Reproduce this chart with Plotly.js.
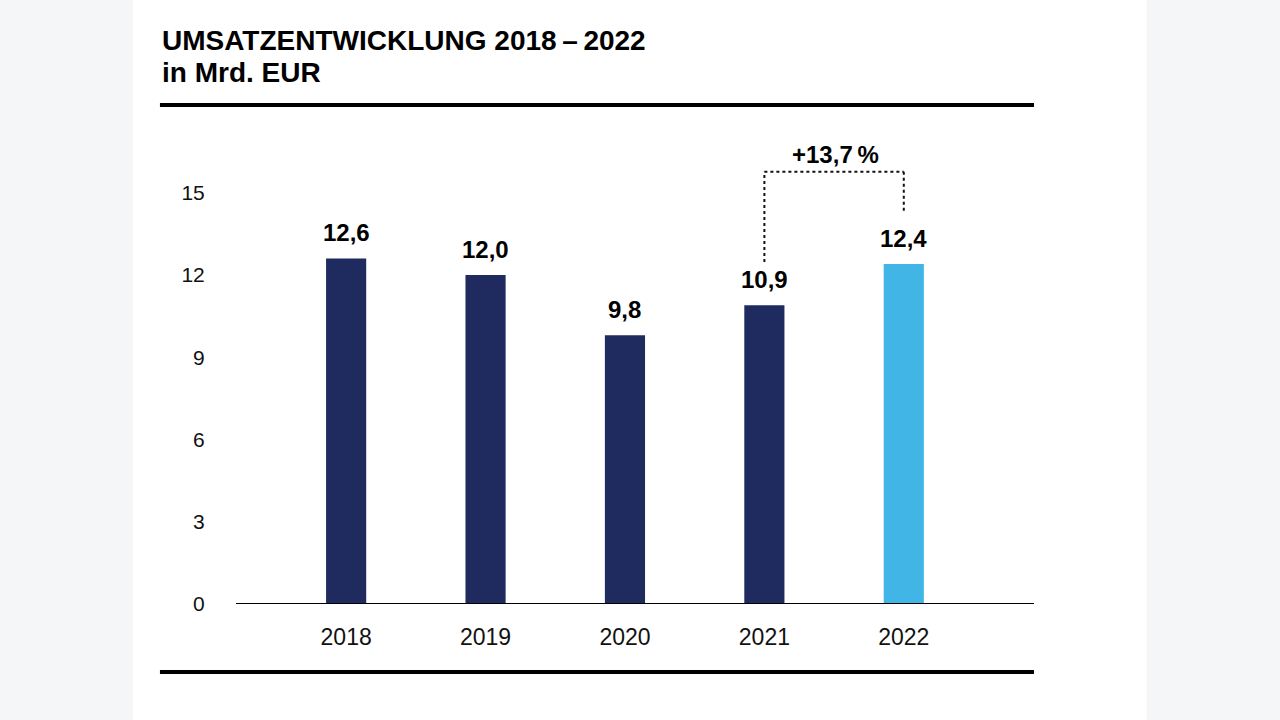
<!DOCTYPE html>
<html>
<head>
<meta charset="utf-8">
<script src="https://cdn.plot.ly/plotly-3.0.1.min.js"></script>
<style>
html,body{margin:0;padding:0;background:#f5f6f8;}
#chart{width:1280px;height:720px;}
</style>
</head>
<body>
<div id="chart"></div>
<script>
const years = ['2018', '2019', '2020', '2021', '2022'];
const revenue = [12.6, 12.0, 9.8, 10.9, 12.4];
const valueLabels = ['12,6', '12,0', '9,8', '10,9', '12,4'];
const barColors = ['#1f2a5e', '#1f2a5e', '#1f2a5e', '#1f2a5e', '#41b6e6'];
const yTicks = [0, 3, 6, 9, 12, 15];
const growthLabel = '+13,7\u2009%';
const titleLine1 = 'UMSATZENTWICKLUNG 2018\u2009\u2013\u20092022';
const titleLine2 = 'in Mrd. EUR';

const FONT = 'Liberation Sans, Arial, Helvetica, sans-serif';

const trace = {
  type: 'bar',
  x: years,
  y: revenue,
  width: 0.288,
  marker: {color: barColors},
  hoverinfo: 'skip'
};

const annotations = years.map((yr, i) => ({
  x: i, y: revenue[i], xref: 'x', yref: 'y',
  text: '<b>' + valueLabels[i] + '</b>',
  showarrow: false, xanchor: 'center', yanchor: 'middle', yshift: 26,
  font: {family: FONT, size: 24, color: '#000'}
}));

annotations.push({
  x: 3.51, y: 16.39, xref: 'x', yref: 'y',
  text: '<b>' + growthLabel + '</b>', showarrow: false,
  font: {family: FONT, size: 24, color: '#000'}
});
annotations.push({
  x: -0.0953, y: 1.209, xref: 'paper', yref: 'paper', xanchor: 'left', yanchor: 'middle',
  text: '<b>' + titleLine1 + '</b>', showarrow: false,
  font: {family: FONT, size: 28, color: '#000'}
});
annotations.push({
  x: -0.0953, y: 1.140, xref: 'paper', yref: 'paper', xanchor: 'left', yanchor: 'middle',
  text: '<b>' + titleLine2 + '</b>', showarrow: false,
  font: {family: FONT, size: 28, color: '#000'}
});

const dot = {color: '#111', width: 2, dash: 'dot'};
const shapes = [
  {type: 'rect', xref: 'paper', yref: 'paper', x0: -0.1292, x1: 1.1411, y0: -2, y1: 3,
   fillcolor: '#ffffff', line: {width: 0}, layer: 'below'},
  {type: 'line', xref: 'paper', yref: 'paper', x0: -0.0953, x1: 1.0, y0: 1.0708, y1: 1.0708,
   line: {color: '#000', width: 4}},
  {type: 'line', xref: 'paper', yref: 'paper', x0: -0.0953, x1: 1.0, y0: -0.1459, y1: -0.1459,
   line: {color: '#000', width: 4}},
  {type: 'line', xref: 'paper', yref: 'y', x0: 0, x1: 1, y0: 0, y1: 0,
   line: {color: '#000', width: 2}},
  {type: 'line', xref: 'x', yref: 'y', x0: 3, x1: 3, y0: 12.48, y1: 15.77, line: dot},
  {type: 'line', xref: 'x', yref: 'y', x0: 3, x1: 4, y0: 15.77, y1: 15.77, line: dot},
  {type: 'line', xref: 'x', yref: 'y', x0: 4, x1: 4, y0: 15.77, y1: 14.27, line: dot}
];

const layout = {
  width: 1280, height: 720,
  paper_bgcolor: '#f5f6f8', plot_bgcolor: 'rgba(0,0,0,0)',
  margin: {l: 236, r: 246, t: 138, b: 116, pad: 0},
  showlegend: false,
  xaxis: {
    type: 'category', range: [-0.79, 4.934], fixedrange: true,
    showgrid: false, zeroline: false, showline: false,
    ticks: 'outside', ticklen: 12, tickcolor: 'rgba(0,0,0,0)',
    tickfont: {family: FONT, size: 23, color: '#111'}
  },
  yaxis: {
    range: [0, 17], tickvals: yTicks, ticktext: yTicks.map(String), fixedrange: true,
    showgrid: false, zeroline: false, showline: false,
    ticks: 'outside', ticklen: 26, tickcolor: 'rgba(0,0,0,0)',
    tickfont: {family: FONT, size: 21, color: '#111'}
  },
  shapes: shapes,
  annotations: annotations
};

Plotly.newPlot('chart', [trace], layout, {displayModeBar: false, staticPlot: true});
</script>
</body>
</html>
